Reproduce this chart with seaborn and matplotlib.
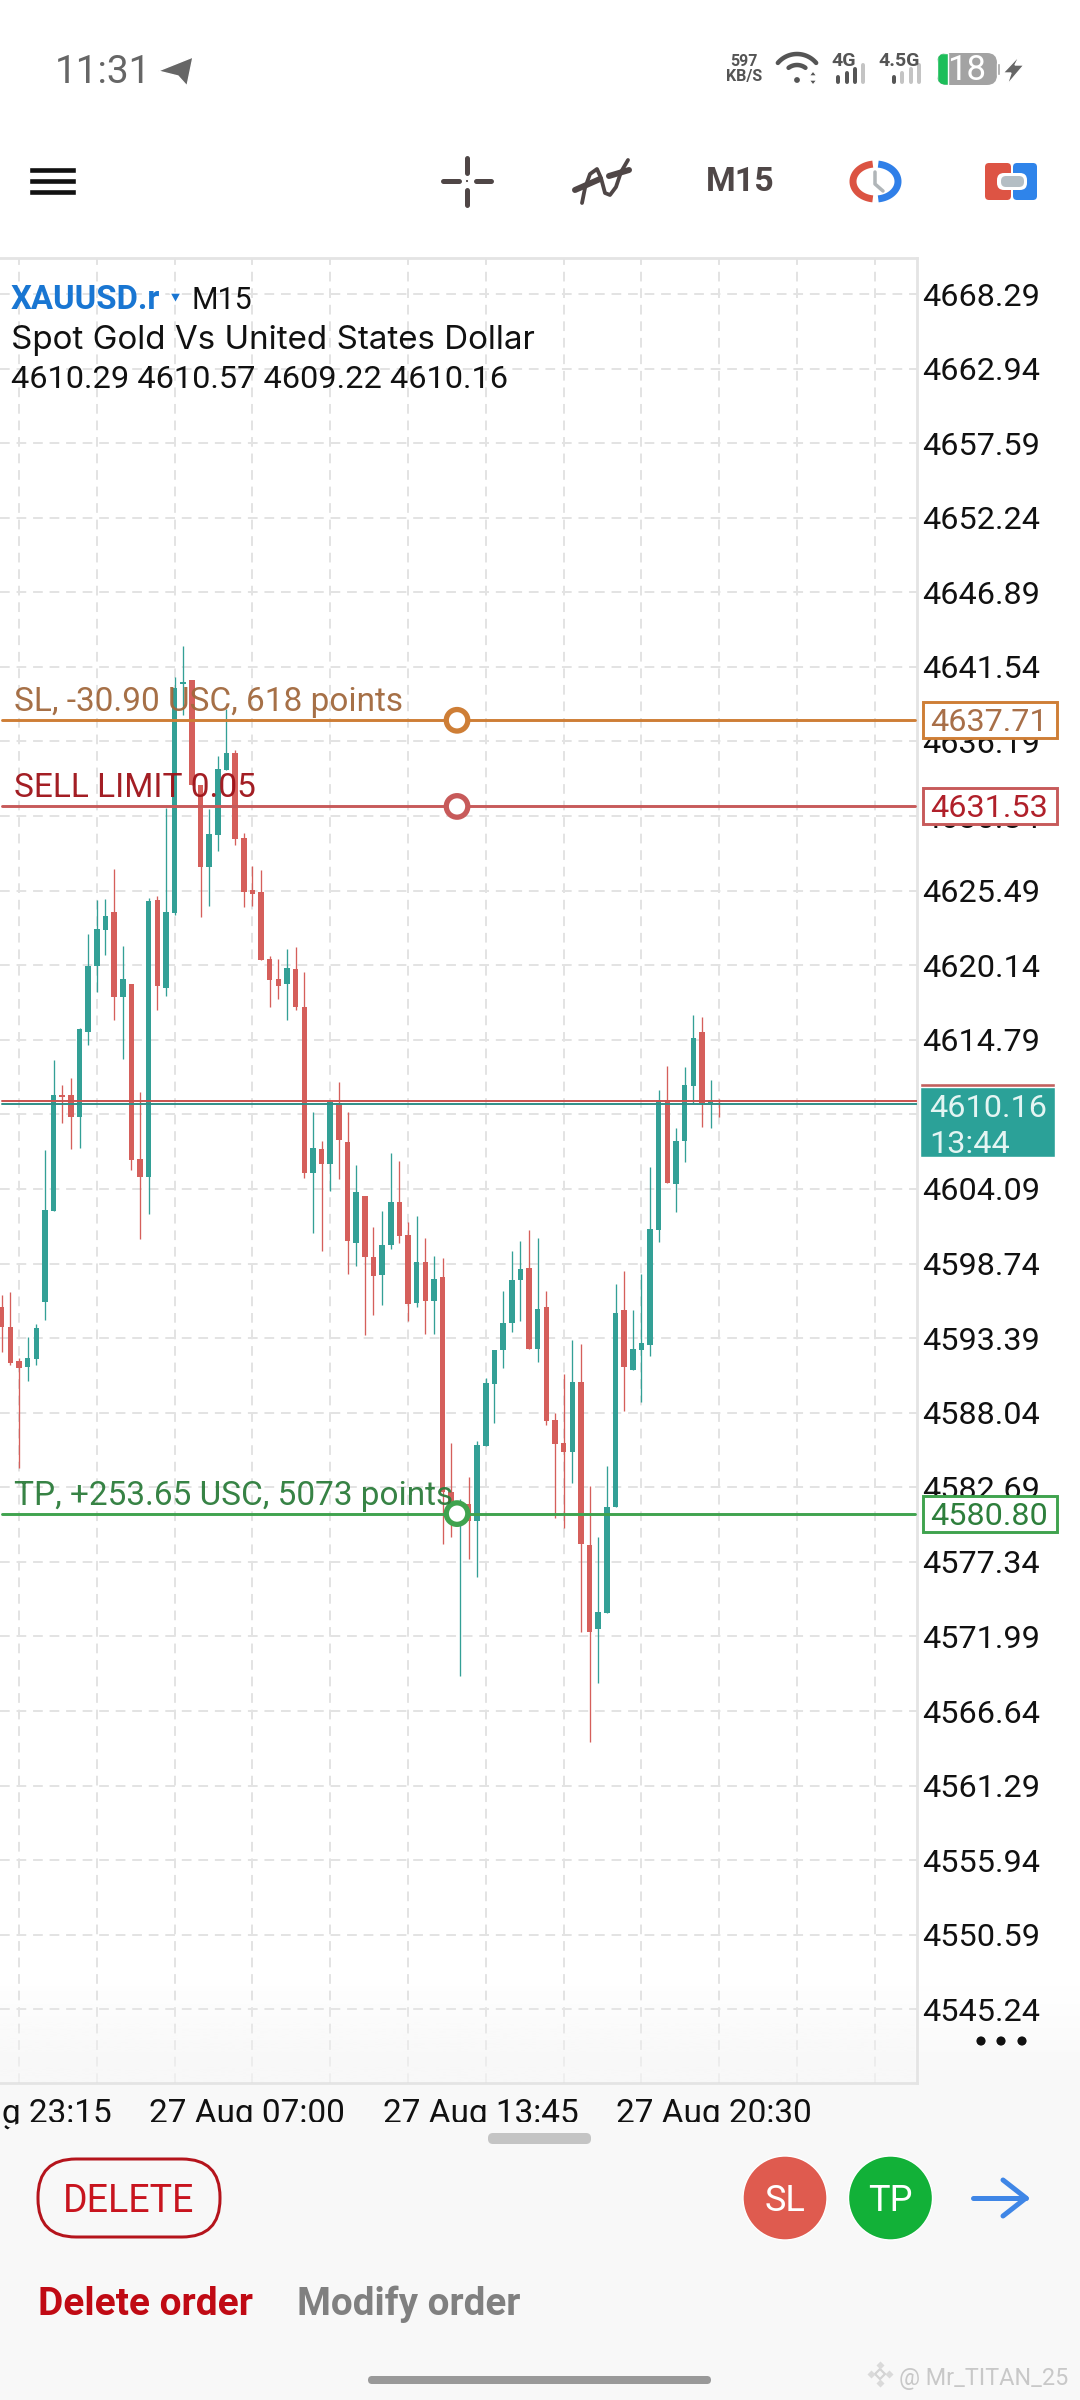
import numpy as np
import pandas as pd
import seaborn as sns
import matplotlib.pyplot as plt
from matplotlib.colors import LinearSegmentedColormap
from matplotlib.patches import Circle, FancyBboxPatch, Polygon, Rectangle
from matplotlib.transforms import ScaledTranslation

# 15 minute candles, numbered so that 0 is the 26 Aug 23:15 bar
candle_no = list(range(-2, 82))
opens = [4595.62, 4594.18, 4591.74, 4591.31, 4591.89, 4595.98, 4602.50, 4610.83, 4610.83, 4609.25, 4615.34, 4620.07,
         4622.66, 4623.95, 4617.86, 4618.79, 4606.23, 4604.94, 4624.81, 4618.50, 4623.88, 4640.31, 4640.59, 4633.07,
         4627.18, 4629.48, 4634.14, 4635.36, 4629.26, 4625.53, 4625.39, 4620.58, 4619.15, 4618.79, 4619.86, 4617.14,
         4605.23, 4606.95, 4605.87, 4610.25, 4607.45, 4600.21, 4603.58, 4599.20, 4597.91, 4600.06, 4603.15, 4600.78,
         4595.90, 4598.84, 4596.05, 4597.77, 4582.34, 4580.69, 4581.48, 4580.26, 4585.64, 4590.09, 4592.53, 4594.47,
         4597.55, 4598.41, 4592.60, 4595.62, 4587.51, 4585.86, 4585.21, 4590.23, 4578.54, 4572.52, 4573.67, 4581.27,
         4595.40, 4591.09, 4592.53, 4592.89, 4601.14, 4610.47, 4604.44, 4607.52, 4611.47, 4615.34, 4610.25, 4610.29]
highs = [4596.48, 4596.69, 4591.96, 4593.47, 4594.40, 4606.88, 4613.34, 4611.54, 4612.04, 4615.63, 4622.37, 4624.81,
         4624.88, 4627.04, 4621.51, 4618.79, 4611.04, 4624.95, 4625.10, 4631.42, 4640.81, 4643.04, 4640.59, 4633.07,
         4631.34, 4635.14, 4638.51, 4635.58, 4629.62, 4627.25, 4626.96, 4620.80, 4620.58, 4621.30, 4621.44, 4619.65,
         4609.61, 4607.52, 4610.47, 4611.76, 4609.61, 4605.80, 4603.58, 4601.36, 4602.50, 4606.66, 4606.09, 4601.71,
         4602.14, 4600.57, 4599.28, 4599.13, 4585.86, 4581.84, 4583.42, 4586.00, 4590.52, 4592.53, 4596.77, 4599.63,
         4600.35, 4601.14, 4600.57, 4596.77, 4588.01, 4590.81, 4593.25, 4592.96, 4582.77, 4579.11, 4584.21, 4597.27,
         4598.20, 4595.40, 4597.98, 4605.66, 4611.18, 4612.91, 4608.46, 4612.83, 4616.56, 4616.42, 4611.90, 4610.57]
lows = [4592.39, 4591.46, 4584.06, 4590.31, 4591.46, 4594.69, 4602.50, 4608.82, 4606.95, 4607.02, 4614.41, 4618.21,
        4620.87, 4616.21, 4613.41, 4605.44, 4600.49, 4602.29, 4616.92, 4617.93, 4623.73, 4638.08, 4633.07, 4623.59,
        4624.38, 4628.33, 4634.14, 4628.76, 4624.31, 4624.38, 4620.51, 4617.14, 4617.71, 4616.21, 4616.92, 4604.87,
        4600.92, 4599.63, 4603.94, 4604.80, 4597.98, 4598.56, 4593.61, 4595.04, 4595.76, 4599.78, 4600.21, 4594.61,
        4595.62, 4593.68, 4593.68, 4578.61, 4579.11, 4569.14, 4577.53, 4576.24, 4585.64, 4587.29, 4591.24, 4593.82,
        4594.61, 4592.60, 4591.67, 4587.15, 4580.48, 4579.76, 4582.99, 4572.30, 4564.41, 4568.64, 4573.67, 4581.27,
        4588.15, 4591.09, 4588.80, 4592.10, 4600.28, 4604.51, 4602.43, 4606.02, 4610.25, 4608.53, 4608.46, 4609.22]
closes = [4594.18, 4591.60, 4591.24, 4591.96, 4594.11, 4602.57, 4610.83, 4610.68, 4609.25, 4615.56, 4620.07, 4622.73,
          4623.66, 4617.86, 4619.15, 4606.16, 4604.94, 4624.74, 4618.64, 4623.95, 4640.02, 4640.45, 4633.07, 4627.18,
          4629.55, 4634.21, 4635.36, 4629.19, 4625.39, 4625.24, 4620.51, 4619.07, 4618.64, 4619.94, 4617.14, 4605.23,
          4607.02, 4605.87, 4610.32, 4607.60, 4600.35, 4603.87, 4599.20, 4597.84, 4600.06, 4603.15, 4600.71, 4595.83,
          4598.84, 4596.05, 4597.63, 4582.34, 4581.12, 4581.55, 4580.26, 4585.72, 4590.16, 4592.53, 4594.47, 4597.55,
          4598.34, 4592.60, 4595.47, 4587.43, 4585.79, 4585.21, 4590.23, 4578.61, 4572.30, 4573.74, 4581.27, 4595.19,
          4591.31, 4592.60, 4593.03, 4601.21, 4610.47, 4604.51, 4607.52, 4611.54, 4614.91, 4610.25, 4610.47, 4610.16]

price_ticks = [4668.29, 4662.94, 4657.59, 4652.24, 4646.89, 4641.54, 4636.19, 4630.84, 4625.49, 4620.14, 4614.79, 4609.44,
               4604.09, 4598.74, 4593.39, 4588.04, 4582.69, 4577.34, 4571.99, 4566.64, 4561.29, 4555.94, 4550.59, 4545.24]
grid_candles = [0, 9, 18, 27, 36, 45, 54, 63, 72, 81, 90, 99]
time_candles = [0, 27, 54, 81]
time_labels = ['26 Aug 23:15', '27 Aug 07:00', '27 Aug 13:45', '27 Aug 20:30']

sl_price = 4637.71
sell_price = 4631.53
tp_price = 4580.80
bid_price = 4610.16
ask_price = 4610.41
sl_label = 'SL, -30.90 USC, 618 points'
sell_label = 'SELL LIMIT 0.05'
tp_label = 'TP, +253.65 USC, 5073 points'
ohlc_label = '4610.29 4610.57 4609.22 4610.16'

UP = '#33A096'
DOWN = '#D55F5B'
GRID = '#E3E3E3'
SL_C = '#CE7E36'
SELL_C = '#C75A5A'
TP_C = '#3FA34E'

sns.set_theme(style='white')
plt.rcParams['font.family'] = ['Roboto', 'DejaVu Sans']

df = pd.DataFrame({'candle': candle_no, 'open': opens, 'high': highs, 'low': lows, 'close': closes})
df['dir'] = np.where(df['close'] > df['open'], 'up', 'down')
df['body'] = (df['close'] - df['open']).abs()
df['base'] = df[['open', 'close']].min(axis=1)
wicks = df.melt(id_vars=['candle', 'dir'], value_vars=['low', 'high'], value_name='price').sort_values('candle')

fig = plt.figure(figsize=(10.8, 24), dpi=100, facecolor='white')

# page background, fades a little towards the order panel
bg = fig.add_axes([0, 0, 1, 1], zorder=0)
bg.imshow(np.clip((np.linspace(0, 2400, 400) - 1990) / 93, 0, 1)[:, None], extent=(0, 1, 0, 1), aspect='auto',
          cmap=LinearSegmentedColormap.from_list('fade', ['#FFFFFF', '#F8F8F8']), vmin=0, vmax=1)
bg.axis('off')

# main chart
ax = fig.add_axes([0, (2400 - 2083) / 2400, 917 / 1080, (2083 - 258) / 2400], zorder=1)
ax.patch.set_visible(False)
for d, c in [('up', UP), ('down', DOWN)]:
    part = wicks[wicks['dir'] == d]
    sns.lineplot(data=part, x='candle', y='price', units='candle', estimator=None, color=c, lw=0.95,
                 legend=False, ax=ax, solid_capstyle='butt', zorder=3)
    bars = df[df['dir'] == d]
    sns.barplot(x=bars['candle'].values, y=bars['body'].values, bottom=bars['base'].values, native_scale=True,
                width=0.64, color=c, saturation=1, errorbar=None, linewidth=0, ax=ax, zorder=4)

ax.set_xlim(-19 / 8.645, 898 / 8.645)
ax.set_ylim(4668.29 - (2083 - 294) / 13.94, 4668.29 + 36 / 13.94)

ax.yaxis.tick_right()
ax.set_yticks(price_ticks)
ax.set_yticklabels([f'{p:.2f}' for p in price_ticks])
ax.tick_params(axis='y', length=0, pad=3.8, labelsize=23.3, labelcolor='#111111')
ax.set_xticks(time_candles)
ax.set_xticklabels(time_labels)
ax.set_xticks(grid_candles, minor=True)
ax.tick_params(axis='x', which='major', length=6, width=1.2, color=GRID, pad=5, labelsize=24, labelcolor='#111111')
ax.tick_params(axis='x', which='minor', length=0)
for lab in ax.get_xticklabels():
    lab.set_transform(lab.get_transform() + ScaledTranslation(-5 / 100, 0, fig.dpi_scale_trans))
ax.grid(True, axis='both', which='both', color=GRID, lw=1.4, ls=(0, (5, 3.5)), zorder=1)
ax.set_axisbelow(True)

for s in ['top', 'right', 'bottom']:
    ax.spines[s].set_color('#E4E4E4')
    ax.spines[s].set_linewidth(2)
ax.spines['left'].set_visible(False)

# order lines, bid and ask
ax.axhline(ask_price, xmin=0.002, color='#C9524F', lw=1.4, zorder=5)
ax.axhline(bid_price, xmin=0.002, color='#2F8F88', lw=1.4, zorder=5)
for level, col in [(sl_price, SL_C), (sell_price, SELL_C), (tp_price, TP_C)]:
    ax.axhline(level, xmin=0.002, xmax=0.998, color=col, lw=2.1, zorder=5)

handles = pd.DataFrame({'candle': [50.67] * 3, 'price': [sl_price, sell_price, tp_price], 'kind': ['sl', 'sell', 'tp']})
sns.scatterplot(data=handles, x='candle', y='price', hue='kind', palette={'sl': 'white', 'sell': 'white', 'tp': 'white'},
                s=240, linewidth=3.8, edgecolor=[SL_C, SELL_C, TP_C], legend=False, ax=ax, zorder=6, clip_on=False)
ax.set_xlabel('')
ax.set_ylabel('')

for txt, level, col in [(sl_label, sl_price, '#A1683D'), (sell_label, sell_price, '#9E1218'), (tp_label, tp_price, '#2C7C3B')]:
    ax.annotate(txt, xy=(0, level), xycoords=('axes fraction', 'data'), xytext=(10, 6.5), textcoords='offset points',
                fontsize=24, color=col, alpha=0.95, va='baseline', zorder=7)

# overlay in screen pixels for the app around the chart
ui = fig.add_axes([0, 0, 1, 1], zorder=5)
ui.patch.set_visible(False)
ui.axis('off')


def py(price):
    return 2400 - ax.transData.transform((0, price))[1]


def stroke(points, color, w, cap='round'):
    xs, ys = zip(*points)
    ui.plot(xs, ys, color=color, lw=w * 0.72, solid_capstyle=cap, solid_joinstyle='round')


def arc(cx, cy, rx, ry, a0, a1, color, w, cap='round'):
    t = np.radians(np.linspace(a0, a1, 40))
    stroke(list(zip(cx + rx * np.cos(t), cy - ry * np.sin(t))), color, w, cap)


def pill(x0, y0, x1, y1, r, fc, ec='none', w=0):
    p = FancyBboxPatch((x0, y0), x1 - x0, y1 - y0, boxstyle=f'round,pad=0,rounding_size={r}', fc=fc, ec=ec, lw=w * 0.72)
    ui.add_patch(p)
    return p


# fade over the lowest part of the grid
fade = np.ones((60, 1, 4))
fade[..., :3] = 248 / 255
fade[..., 3] = np.linspace(0, 0.6, 60)[:, None]
ui.imshow(fade, extent=(0, 915, 2082, 1990), aspect='auto', zorder=1)

# price boxes on the scale
for level, ec, tc in [(sl_price, SL_C, '#A86F48'), (sell_price, SELL_C, '#B0202A'), (tp_price, TP_C, '#2E7F3C')]:
    y = py(level)
    ui.add_patch(Rectangle((923, y - 18), 134, 36, fc='white', ec=ec, lw=2.1, zorder=3))
    ui.text(930, y + 11, f'{level:.2f}', fontsize=23.3, color=tc, va='baseline', zorder=4)
ui.add_patch(Rectangle((920, 1083), 135, 74, fc='#2BA198', zorder=3))
ui.add_patch(Rectangle((920, 1083), 135, 4, fc='#C2605E', zorder=3))
ui.text(929, 1117, f'{bid_price:.2f}', fontsize=23.3, color='#E4F5F3', va='baseline', zorder=4)
ui.text(929, 1153, '13:44', fontsize=23.3, color='#E4F5F3', va='baseline', zorder=4)
for dx in (981, 1001, 1022):
    ui.add_patch(Circle((dx, 2041), 5.3, fc='#111111'))

# symbol header
ui.text(11, 309, 'XAUUSD.r', fontsize=23.7, color='#1976D2', fontweight='bold', va='baseline')
ui.add_patch(Polygon([(170, 293), (181, 293), (175.5, 303)], fc='#1976D2'))
ui.text(191, 309, 'M15', fontsize=22, color='#111111', va='baseline')
ui.text(11, 349, 'Spot Gold Vs United States Dollar', fontsize=23.9, family='Inter', color='#111111', va='baseline')
ui.text(11, 388, ohlc_label, fontsize=23.4, color='#111111', va='baseline')

# status bar
ui.text(55, 83, '11:31', fontsize=28, color='#666666', va='baseline')
ui.add_patch(Polygon([(193, 57), (158, 71), (178, 76), (187, 86)], fc='#666666'))
ui.text(744, 62, '597', fontsize=11.5, fontweight='bold', color='#555555', ha='center', va='center')
ui.text(744, 77, 'KB/S', fontsize=11.5, fontweight='bold', color='#555555', ha='center', va='center')
arc(797, 79, 25, 25, 40, 140, '#555555', 4.5)
arc(797, 79, 14, 14, 53, 127, '#555555', 4.5)
ui.add_patch(Circle((797, 80), 3.6, fc='#555555'))
ui.add_patch(Polygon([(809, 76), (817, 76), (813, 71)], fc='#555555'))
ui.add_patch(Polygon([(809, 80), (817, 80), (813, 85)], fc='#555555'))
ui.text(844, 61, '4G', fontsize=14, fontweight='bold', color='#555555', ha='center', va='center')
ui.text(899, 61, '4.5G', fontsize=14, fontweight='bold', color='#555555', ha='center', va='center')
for bx, top, col in [(838, 77, '#555555'), (847, 73, '#555555'), (855, 69, '#555555'), (863, 65, '#C4C4C4'),
                     (894, 77, '#555555'), (902, 73, '#C4C4C4'), (911, 69, '#C4C4C4'), (919, 65, '#C4C4C4')]:
    stroke([(bx, top), (bx, 82)], col, 4)
batt = pill(937, 53, 997, 85, 10, '#A3A3A3')
ui.add_patch(Rectangle((937, 53), 11, 32, fc='#1DBE5A', clip_path=batt))
ui.add_patch(Rectangle((997, 63), 3, 12, fc='#A3A3A3'))
ui.text(967, 70, '18', fontsize=25, color='white', ha='center', va='center')
ui.add_patch(Polygon([(1020, 55), (1003, 73), (1011, 73), (1007, 85), (1024, 65), (1015, 65)], fc='#666666'))

# toolbar
for y in (170, 181, 192):
    ui.add_patch(Rectangle((29, y - 3), 47, 6, fc='#111111'))
stroke([(443, 181), (459, 181)], '#4F4646', 5)
stroke([(476, 181), (491, 181)], '#4F4646', 5)
stroke([(467, 158), (467, 173)], '#4F4646', 5)
stroke([(467, 190), (467, 205)], '#4F4646', 5)
ui.add_patch(Circle((467, 181), 1.8, fc='#4F4646'))
stroke([(582, 203), (585, 188), (590, 174), (597, 169), (601, 178), (605, 193), (610, 195), (616, 187), (621, 172), (628, 160)],
       '#4F4646', 3.8)
stroke([(575, 190), (600, 179)], '#4F4646', 6)
stroke([(609, 176), (629, 170)], '#4F4646', 6)
ui.text(740, 182, 'M15', fontsize=24.5, fontweight='bold', color='#4F4747', ha='center', va='center')
arc(875.5, 181.5, 22.5, 17.5, 97, 263, '#DB5342', 7, 'butt')
arc(875.5, 181.5, 22.5, 17.5, -83, 83, '#2F7FE8', 7, 'butt')
stroke([(875, 172), (875, 184), (883, 191)], '#B0B5B8', 3.5)
pill(985, 163, 1011, 200, 4, '#DD5444')
pill(1013, 163, 1037, 200, 4, '#2F84EA')
pill(997, 173, 1027, 190, 7, 'white')
pill(1001, 176, 1024, 187, 5, '#B4BEC4')

# order panel
pill(0, 2122, 1080, 2460, 30, '#F8F8F8')
pill(488, 2133, 591, 2144, 5, '#C4C4C4')
pill(38, 2159, 220, 2237, 38, 'none', '#B5141C', 3)
ui.text(129, 2201, 'DELETE', fontsize=27, color='#C8141E', ha='center', va='center')
ui.add_patch(Circle((785, 2198), 42, fc='#DF5B4F'))
ui.add_patch(Circle((890.5, 2198), 42, fc='#12B138'))
ui.text(785, 2201, 'SL', fontsize=26, color='white', ha='center', va='center')
ui.text(890.5, 2201, 'TP', fontsize=26, color='white', ha='center', va='center')
stroke([(973, 2198), (1026, 2198)], '#3F86E6', 5)
stroke([(1003, 2180), (1026, 2198), (1003, 2216)], '#3F86E6', 5)
ui.text(38, 2315, 'Delete order', fontsize=28, fontweight='bold', color='#C00A14', va='baseline')
ui.text(297, 2315, 'Modify order', fontsize=27.8, fontweight='bold', color='#808080', va='baseline')
pill(368, 2376, 711, 2384, 4, '#999999')
ui.plot([880], [2374], marker='D', ms=5, mfc='none', mec='#D4D4D4', mew=1.6)
ui.plot([871, 889, 880, 880], [2374, 2374, 2365, 2383], ls='none', marker='D', ms=4, mfc='#DADADA', mec='none')
ui.text(899, 2385, '@ Mr_TITAN_25', fontsize=16.8, color='#C8C8C8', va='baseline')

ui.set_xlim(0, 1080)
ui.set_ylim(2400, 0)

fig.savefig('out.png', dpi=100)
